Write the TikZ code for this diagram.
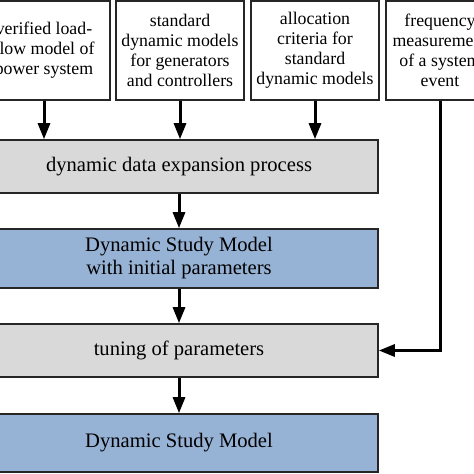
\documentclass[tikz,border=0pt]{standalone}
\usepackage{fontspec}
\setmainfont{Liberation Serif}
\usetikzlibrary{arrows.meta}
\definecolor{boxgray}{RGB}{217,217,217}
\definecolor{boxblue}{RGB}{150,178,212}
\definecolor{edge}{RGB}{38,38,38}
\tikzset{
  inbox/.style={draw=edge, line width=1.6pt, fill=white, align=center, minimum height=99pt, inner sep=0pt,
    font=\fontsize{17.8}{20}\selectfont},
  procbox/.style={draw=edge, line width=1.6pt, fill=boxgray, align=center, minimum width=398pt, minimum height=53pt, inner sep=0pt,
    font=\fontsize{20.6}{23}\selectfont},
  modelbox/.style={draw=edge, line width=1.6pt, fill=boxblue, align=center, minimum width=398pt, minimum height=59pt, inner sep=0pt,
    font=\fontsize{20.6}{23}\selectfont},
  arr/.style={line width=3pt, -{Triangle[length=16pt,width=12pt]}}
}
\begin{document}
\begin{tikzpicture}[x=1pt,y=-1pt]
\useasboundingbox (0,0) rectangle (474,474);
\clip (0,0) rectangle (474,474);
\fill[white] (0,0) rectangle (474,474);
\node[inbox, minimum width=132pt] (t1) at (44,50.5) {verified load-\\flow model of\\power system};
\node[inbox, minimum width=128pt] (t2) at (180,50.5) {standard\\dynamic models\\for generators\\and controllers};
\node[inbox, minimum width=128pt] (t3) at (315,50.5) {allocation\\criteria for\\standard\\dynamic models};
\node[inbox, minimum width=108pt] (t4) at (440,50.5) {frequency\\measurement\\of a system\\event};
\node[procbox] (p1) at (179,166.5) {dynamic data expansion process};
\node[modelbox] (m1) at (179,258.5) {Dynamic Study Model\\with initial parameters};
\node[procbox] (p2) at (179,350.5) {tuning of parameters};
\node[modelbox, minimum height=58pt] (m2) at (179,443) {Dynamic Study Model};
\draw[arr] (t1.south) -- (t1.south |- p1.north);
\draw[arr] (t2.south) -- (t2.south |- p1.north);
\draw[arr] (t3.south) -- (t3.south |- p1.north);
\draw[arr] (t4.south) |- (p2.east);
\draw[arr] (p1.south) -- (m1.north);
\draw[arr] (m1.south) -- (p2.north);
\draw[arr] (p2.south) -- (m2.north);
\end{tikzpicture}
\end{document}
